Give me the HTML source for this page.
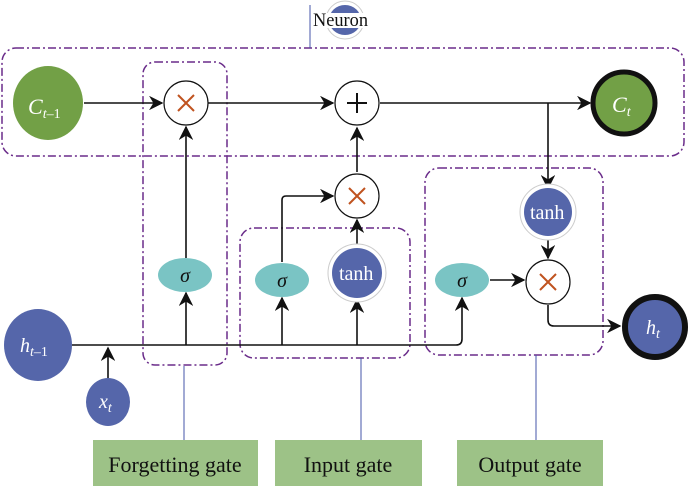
<!DOCTYPE html>
<html><head><style>body{margin:0;background:#fff}svg{display:block}</style></head><body>
<svg width="692" height="486" viewBox="0 0 692 486" xmlns="http://www.w3.org/2000/svg" font-family="Liberation Serif, serif">
<defs><marker id="a" viewBox="0 0 10 10" refX="9" refY="5" markerWidth="9" markerHeight="9" orient="auto"><path d="M0,0 L10,5 L0,10 L3,5z" fill="#111"/></marker></defs>
<g fill="none" stroke="#6a2c8a" stroke-width="1.5" stroke-dasharray="8,3,2,3">
<rect x="2" y="48" width="682" height="108" rx="14"/>
<rect x="143" y="62" width="84" height="303" rx="12"/>
<rect x="240" y="228" width="170" height="130" rx="14"/>
<rect x="425" y="168" width="178" height="187" rx="14"/>
</g>
<g stroke="#4455aa" stroke-width="1"><line x1="310" y1="5" x2="310" y2="48"/><line x1="184" y1="366" x2="184" y2="440"/><line x1="361" y1="358" x2="361" y2="440"/><line x1="536" y1="355" x2="536" y2="440"/></g>
<g stroke="#111" stroke-width="1.6" fill="none" marker-end="url(#a)">
<line x1="84" y1="103" x2="162" y2="103"/><line x1="208" y1="103" x2="333" y2="103"/><line x1="380" y1="103" x2="590" y2="103"/>
<line x1="548" y1="103" x2="548" y2="188"/><line x1="548" y1="236" x2="548" y2="258"/>
<line x1="186" y1="258" x2="186" y2="127"/><line x1="357" y1="172" x2="357" y2="128"/><line x1="357" y1="246" x2="357" y2="220"/>
<path d="M282,262 V200 Q282,196 286,196 H333"/>
<line x1="186" y1="345" x2="186" y2="293"/><line x1="282" y1="345" x2="282" y2="298"/><line x1="357" y1="345" x2="357" y2="300"/>
<path d="M72,345 H456 Q462,345 462,339 V298"/>
<line x1="490" y1="280" x2="524" y2="280"/>
<path d="M548,305 V320 Q548,326 554,326 H620"/>
<line x1="108" y1="378" x2="108" y2="348"/>
</g>
<g stroke="#111" stroke-width="1.2" fill="#fff"><circle cx="186" cy="103" r="22"/><circle cx="357" cy="103" r="22"/><circle cx="357" cy="196" r="22"/><circle cx="548" cy="282" r="22"/></g>
<g stroke="#c0531f" stroke-width="2"><path d="M178,95 L194,111 M194,95 L178,111 M349,188 L365,204 M365,188 L349,204 M540,274 L556,290 M556,274 L540,290"/></g>
<path d="M357,93 V113 M347,103 H367" stroke="#111" stroke-width="2"/>
<circle cx="345" cy="20" r="19" fill="#fff" stroke="#ccc"/><ellipse cx="345" cy="20" rx="16" ry="15" fill="#5566aa"/><rect x="318" y="13" width="54" height="15" fill="#fff"/>
<text x="313" y="26" font-size="19" fill="#111" textLength="55" lengthAdjust="spacingAndGlyphs">Neuron</text>
<ellipse cx="48" cy="103" rx="35" ry="37" fill="#72a046"/>
<circle cx="624" cy="103" r="31" fill="#72a046" stroke="#111" stroke-width="5"/>
<ellipse cx="38" cy="345" rx="34" ry="36" fill="#5566aa"/>
<ellipse cx="108" cy="402" rx="22" ry="24" fill="#5566aa"/>
<circle cx="655" cy="327" r="30" fill="#5566aa" stroke="#111" stroke-width="6"/>
<circle cx="548" cy="212" r="28" fill="#fff" stroke="#ccc"/><circle cx="548" cy="212" r="24" fill="#5566aa"/>
<circle cx="357" cy="273" r="29" fill="#fff" stroke="#ccc"/><circle cx="357" cy="273" r="25" fill="#5566aa"/>
<g fill="#7ac4c4"><ellipse cx="185" cy="275" rx="27" ry="17"/><ellipse cx="282" cy="280" rx="27" ry="17"/><ellipse cx="462" cy="280" rx="27" ry="17"/></g>
<g font-style="italic" font-size="20" fill="#111" text-anchor="middle"><text x="185" y="282">σ</text><text x="282" y="287">σ</text><text x="462" y="287">σ</text></g>
<g fill="#fff" font-size="20">
<text x="530" y="219">tanh</text><text x="339" y="280">tanh</text>
<text x="28" y="114" font-style="italic" font-size="22">C<tspan font-size="14" dy="4">t</tspan><tspan font-size="14" font-style="normal">–1</tspan></text>
<text x="612" y="112" font-style="italic" font-size="22">C<tspan font-size="14" dy="4">t</tspan></text>
<text x="20" y="352" font-style="italic">h<tspan font-size="14" dy="4">t–</tspan><tspan font-size="14" font-style="normal">1</tspan></text>
<text x="99" y="408" font-style="italic">x<tspan font-size="14" dy="4">t</tspan></text>
<text x="646" y="334" font-style="italic">h<tspan font-size="14" dy="4">t</tspan></text>
</g>
<g fill="#9dc287"><rect x="93" y="440" width="165" height="46"/><rect x="275" y="440" width="147" height="46"/><rect x="457" y="440" width="146" height="46"/></g>
<g font-size="22" fill="#111" text-anchor="middle"><text x="175" y="472">Forgetting gate</text><text x="348" y="472">Input gate</text><text x="530" y="472">Output gate</text></g>
</svg>
</body></html>
